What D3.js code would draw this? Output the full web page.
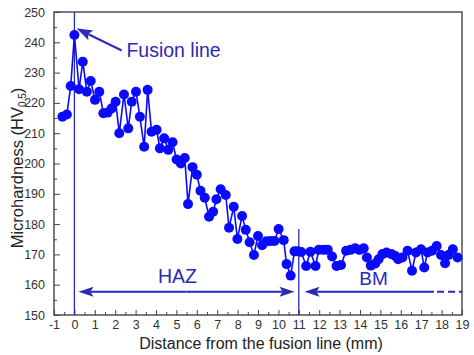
<!DOCTYPE html>
<html><head><meta charset="utf-8">
<script src="https://cdn.jsdelivr.net/npm/d3@7/dist/d3.min.js"></script>
<style>body{margin:0;background:#fff}svg{display:block;font-family:Arial,"Liberation Sans",sans-serif}</style>
</head><body><svg id="c" width="474" height="355"></svg>
<script>
// Distance from the fusion line (mm)
const distance = [-0.59,-0.37,-0.18,0.00,0.23,0.41,0.61,0.80,1.01,1.22,1.42,1.63,1.83,2.02,2.20,2.43,2.64,2.81,3.02,3.21,3.42,3.59,3.78,4.03,4.19,4.40,4.60,4.81,5.01,5.22,5.41,5.57,5.79,6.00,6.18,6.39,6.60,6.80,6.96,7.17,7.42,7.58,7.81,7.99,8.22,8.40,8.59,8.80,9.00,9.20,9.41,9.62,9.81,10.01,10.26,10.40,10.60,10.79,10.95,11.12,11.36,11.57,11.82,11.98,12.22,12.42,12.63,12.85,13.07,13.32,13.53,13.76,13.97,14.18,14.34,14.53,14.75,14.91,15.10,15.30,15.54,15.73,15.87,16.08,16.33,16.55,16.74,16.99,17.15,17.31,17.53,17.76,17.97,18.17,18.34,18.55,18.78];
// Microhardness (HV0.5)
const hardness = [215.4,216.2,225.6,242.4,224.5,233.6,223.7,227.2,221.0,223.7,216.6,216.8,218.2,220.4,210.0,222.8,211.6,220.4,223.7,215.4,205.5,224.3,210.5,211.1,205.0,208.3,204.5,207.0,201.3,200.0,201.8,186.6,198.8,196.3,191.0,188.7,182.4,184.1,188.2,191.5,189.6,178.8,185.7,175.1,182.7,178.1,174.0,169.8,176.1,173.0,174.3,174.4,174.4,178.4,174.7,166.8,163.0,171.0,171.0,170.8,166.2,170.9,166.2,171.5,171.5,171.5,169.3,166.2,166.5,171.2,171.5,172.0,171.5,172.0,169.0,166.3,167.0,168.4,170.1,170.6,170.1,169.5,168.4,169.0,171.2,164.6,170.6,171.7,165.7,170.6,171.2,172.8,169.8,167.1,169.8,171.7,169.0];
const xTickValues = [-1,0,1,2,3,4,5,6,7,8,9,10,11,12,13,14,15,16,17,18,19];
const xMinorTicks = [-0.5,0.5,1.5,2.5,3.5,4.5,5.5,6.5,7.5,8.5,9.5,10.5,11.5,12.5,13.5,14.5,15.5,16.5,17.5,18.5];
const yTickValues = [150,160,170,180,190,200,210,220,230,240,250];
const yMinorTicks = [155,165,175,185,195,205,215,225,235,245];
const xDomain = [-1,19];
const yDomain = [150,250];

const svg = d3.select('#c');
const x = d3.scaleLinear().domain(xDomain).range([54,462]);
const y = d3.scaleLinear().domain(yDomain).range([315,12]);
const axisColor = '#444';
const annColor = '#2a2ab8';
const dataColor = '#0a0aff';

// axes
const gx = svg.append('g').attr('transform','translate(0,315)')
  .call(d3.axisBottom(x).tickValues(xTickValues).tickSizeInner(-5).tickSizeOuter(0).tickPadding(5).tickFormat(d=>String(d)));
const gxm = svg.append('g').attr('transform','translate(0,315)')
  .call(d3.axisBottom(x).tickValues(xMinorTicks).tickSizeInner(-3).tickSizeOuter(0).tickFormat(''));
const gy = svg.append('g').attr('transform','translate(54,0)')
  .call(d3.axisLeft(y).tickValues(yTickValues).tickSizeInner(-6).tickSizeOuter(0).tickPadding(9).tickFormat(d=>String(d)));
const gym = svg.append('g').attr('transform','translate(54,0)')
  .call(d3.axisLeft(y).tickValues(yMinorTicks).tickSizeInner(-3).tickSizeOuter(0).tickFormat(''));
[gx,gxm,gy,gym].forEach(g=>{
  g.select('.domain').remove();
  g.selectAll('line').attr('stroke',axisColor).attr('stroke-width',1);
  g.selectAll('text').attr('fill','#333').attr('font-size',12.5).attr('font-family','Arial, "Liberation Sans", sans-serif');
});

// frame
svg.append('rect').attr('x',x(xDomain[0])).attr('y',y(yDomain[1]))
  .attr('width',x(xDomain[1])-x(xDomain[0])).attr('height',y(yDomain[0])-y(yDomain[1]))
  .attr('fill','none').attr('stroke',axisColor).attr('stroke-width',1.4);

// titles
svg.append('text').attr('x',(x(xDomain[0])+x(xDomain[1]))/2+3).attr('y',349)
  .attr('text-anchor','middle').attr('font-size',16).attr('fill','#222')
  .text('Distance from the fusion line (mm)');
const yt = svg.append('text').attr('transform','translate(23,168) rotate(-90)')
  .attr('text-anchor','middle').attr('font-size',16.5).attr('fill','#222');
yt.append('tspan').text('Microhardness (HV');
yt.append('tspan').attr('font-size',10).attr('dy',3).text('0.5');
yt.append('tspan').attr('dy',-3).text(')');

// reference lines
svg.append('line').attr('x1',x(0)).attr('x2',x(0)).attr('y1',y(250)).attr('y2',y(150))
  .attr('stroke',annColor).attr('stroke-width',1.3);
svg.append('line').attr('x1',x(11)).attr('x2',x(11)).attr('y1',y(178.4)).attr('y2',y(150))
  .attr('stroke',annColor).attr('stroke-width',1.3);

// data
const pts = distance.map((d,i)=>[d,hardness[i]]);
svg.append('path').datum(pts)
  .attr('d',d3.line().x(d=>x(d[0])).y(d=>y(d[1])))
  .attr('fill','none').attr('stroke',dataColor).attr('stroke-width',1.6);
svg.append('g').selectAll('circle').data(pts).join('circle')
  .attr('cx',d=>x(d[0])).attr('cy',d=>y(d[1])).attr('r',5).attr('fill',dataColor);

// arrow: shaft from (fx,fy) to head base, filled head with tip at (tx,ty)
function arrow(fx,fy,tx,ty,len,hw,dash){
  const a=Math.atan2(ty-fy,tx-fx);
  const bx=tx-len*Math.cos(a)*0.8, by=ty-len*Math.sin(a)*0.8;
  const sx=tx-len*Math.cos(a), sy=ty-len*Math.sin(a);
  const px=-Math.sin(a)*hw, py=Math.cos(a)*hw;
  svg.append('line').attr('x1',fx).attr('y1',fy).attr('x2',bx).attr('y2',by)
    .attr('stroke',annColor).attr('stroke-width',2);
  svg.append('path').attr('d',`M${tx},${ty}L${sx+px},${sy+py}L${bx},${by}L${sx-px},${sy-py}Z`).attr('fill',annColor);
}
// HAZ arrow (double)
const haz = {x0:0.2, x1:10.79, yv:157.7};
const hm = (x(haz.x0)+x(haz.x1))/2;
arrow(hm,y(haz.yv),x(haz.x0),y(haz.yv),15,5);
arrow(hm,y(haz.yv),x(haz.x1),y(haz.yv),15,5);
svg.append('text').attr('x',x(5.05)).attr('y',y(157.7)-9).attr('text-anchor','middle')
  .attr('font-size',19.5).attr('fill',annColor).text('HAZ');
// BM arrow
const bm = {x0:11.28, xs:17.63, x1:19, yv:157.7};
arrow(x(bm.xs),y(bm.yv),x(bm.x0),y(bm.yv),15,5);
svg.append('line').attr('x1',x(bm.xs)+3).attr('x2',x(bm.x1)).attr('y1',y(bm.yv)).attr('y2',y(bm.yv))
  .attr('stroke',annColor).attr('stroke-width',2).attr('stroke-dasharray','7,4');
svg.append('text').attr('x',x(14.66)).attr('y',y(157.7)-7).attr('text-anchor','middle')
  .attr('font-size',19).attr('fill',annColor).text('BM');
// Fusion line arrow
const fus = {tx:0.1, ty:244.6, fx:2.32, fy:237.3};
arrow(x(fus.fx),y(fus.fy),x(fus.tx),y(fus.ty),16,5.5);
svg.append('text').attr('x',x(2.55)).attr('y',y(237.2)+6).attr('font-size',19.5).attr('fill',annColor).text('Fusion line');
</script></body></html>
